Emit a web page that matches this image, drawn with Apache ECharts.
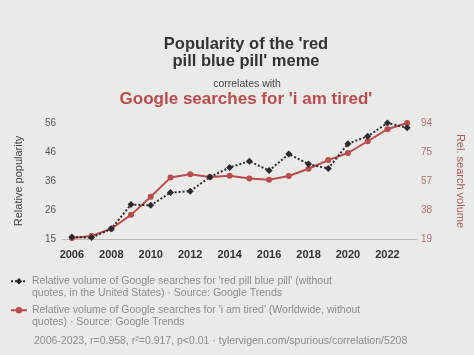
<!DOCTYPE html>
<html>
<head>
<meta charset="utf-8">
<script src="https://cdn.jsdelivr.net/npm/echarts@6/dist/echarts.min.js"></script>
<style>
  html, body { margin: 0; padding: 0; background: #eaeae6; }
  #main { width: 474px; height: 355px; }
</style>
</head>
<body>
<div id="main"></div>
<script>
// years on the x axis
var years = ['2006', '2007', '2008', '2009', '2010', '2011', '2012', '2013', '2014',
  '2015', '2016', '2017', '2018', '2019', '2020', '2021', '2022', '2023'];
// relative popularity of 'red pill blue pill' (left axis)
var redPill = [16.1, 15.9, 19.0, 27.6, 27.3, 31.8, 32.3, 37.3, 40.7,
  42.9, 39.6, 45.4, 41.9, 40.3, 49.1, 51.7, 56.4, 54.7];
// relative search volume for 'i am tired' (right axis)
var iAmTired = [19.9, 21.2, 25.8, 34.8, 46.5, 58.9, 61.1, 59.3, 60.1,
  58.3, 57.5, 59.9, 64.6, 70.2, 74.8, 82.4, 90.2, 94.2];
// tick label positions (labels shown rounded)
var leftTicks = [15.4, 25.65, 35.9, 46.15, 56.4];
var rightTicks = [19.2, 37.95, 56.7, 75.45, 94.2];

var redPillName = "Relative volume of Google searches for 'red pill blue pill' (without\nquotes, in the United States) · Source: Google Trends";
var tiredName = "Relative volume of Google searches for 'i am tired' (Worldwide, without\nquotes) · Source: Google Trends";

var red = '#b94c50';
var font = 'Liberation Sans, Arial, sans-serif';

// legend text: a blank first line keeps the icon next to the first text line
var legendStyle = {
  orient: 'vertical',
  left: 10,
  padding: 0,
  itemWidth: 16, itemHeight: 8,
  textStyle: { fontSize: 10.5, color: '#8c8c8c', lineHeight: 11.5, fontFamily: font },
  formatter: function (name) { return '\n' + name; }
};

var myChart = echarts.init(document.getElementById('main'));
myChart.setOption({
  backgroundColor: '#eaeae6',
  textStyle: { fontFamily: font },
  title: [{
    text: "Popularity of the 'red\npill blue pill' meme",
    left: 241, top: 31, textAlign: 'center',
    textStyle: { fontSize: 16.5, fontWeight: 'bold', color: '#333', lineHeight: 17, fontFamily: font }
  }, {
    text: 'correlates with',
    left: 242, top: 74, textAlign: 'center',
    textStyle: { fontSize: 10.5, fontWeight: 'normal', color: '#444', fontFamily: font }
  }, {
    text: "Google searches for 'i am tired'",
    left: 241, top: 86, textAlign: 'center',
    textStyle: { fontSize: 17, fontWeight: 'bold', color: red, fontFamily: font }
  }, {
    text: '2006-2023, r=0.958, r²=0.917, p<0.01 · tylervigen.com/spurious/correlation/5208',
    left: 29, top: 331,
    textStyle: { fontSize: 10.5, fontWeight: 'normal', color: '#8c8c8c', fontFamily: font }
  }],
  legend: [
    echarts.util.extend({ top: 264, data: [redPillName] }, legendStyle),
    echarts.util.extend({ top: 293, data: [tiredName] }, legendStyle)
  ],
  grid: { left: 62, right: 53, top: 123, bottom: 116 },
  xAxis: {
    type: 'category',
    data: years,
    boundaryGap: true,
    axisLine: { lineStyle: { color: '#bbb' } },
    axisTick: { alignWithLabel: true, interval: 1, length: 4, lineStyle: { color: '#999' } },
    axisLabel: { interval: 1, fontSize: 11, fontWeight: 'bold', color: '#333', margin: 10 }
  },
  yAxis: [{
    type: 'value',
    min: 15.4, max: 56.4,
    name: 'Relative popularity',
    nameLocation: 'middle', nameGap: 38,
    nameTextStyle: { fontSize: 11, color: '#444' },
    splitLine: { show: false },
    axisLine: { show: false },
    axisTick: { show: false },
    axisLabel: {
      customValues: leftTicks, fontSize: 10, color: '#555', margin: 6,
      formatter: function (v) { return Math.round(v); }
    }
  }, {
    type: 'value',
    min: 19.2, max: 94.2,
    name: 'Rel. search volume',
    nameLocation: 'middle', nameGap: 38, nameRotate: -90,
    nameTextStyle: { fontSize: 11, color: '#a85a5d' },
    splitLine: { show: false },
    axisLine: { show: false },
    axisTick: { show: false },
    axisLabel: {
      customValues: rightTicks, fontSize: 10, color: '#b07073', margin: 4,
      formatter: function (v) { return Math.round(v); }
    }
  }],
  series: [{
    name: tiredName,
    type: 'line',
    yAxisIndex: 1,
    data: iAmTired,
    symbol: 'circle', symbolSize: 6,
    itemStyle: { color: red },
    lineStyle: { color: red, width: 2 }
  }, {
    name: redPillName,
    type: 'line',
    yAxisIndex: 0,
    data: redPill,
    symbol: 'diamond', symbolSize: 7,
    itemStyle: { color: '#2b2b2b' },
    lineStyle: { color: '#2b2b2b', width: 2, type: 'dotted' }
  }]
});
</script>
</body>
</html>
